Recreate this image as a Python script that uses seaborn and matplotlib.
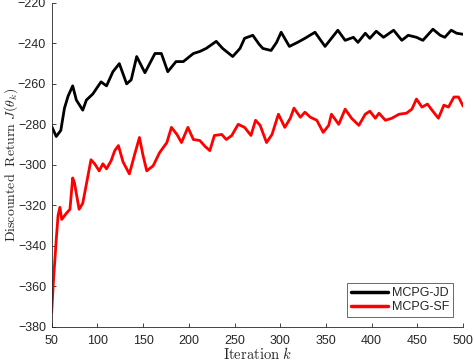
import pandas as pd
import matplotlib
matplotlib.use('Agg')
import matplotlib.pyplot as plt
import seaborn as sns

# values
jd_iter = [50, 55, 60, 64, 68, 73, 77, 84, 88, 95,
           104, 110, 117, 124, 132, 137, 143, 152, 163, 170,
           177, 186, 194, 205, 212, 219, 230, 237, 248, 256,
           261, 270, 277, 281, 290, 296, 301, 310, 319, 327,
           338, 349, 356, 363, 371, 380, 385, 393, 398, 405,
           413, 424, 433, 440, 449, 456, 467, 475, 480, 487,
           493, 500]
jd_ret = [-281, -286, -283, -272, -266, -261, -268, -273, -268, -265,
          -259, -261, -254, -250, -260, -258, -246.5, -254.5, -245, -245,
          -254, -249, -249, -245, -244, -242.5, -239, -242.5, -246.5, -242.5,
          -237.5, -236, -240.5, -242.5, -243.5, -239.5, -234.5, -241.5, -239.5, -237.5,
          -234.5, -241.5, -237.5, -233.5, -238.5, -237, -239.5, -235, -237.5, -234,
          -237, -233.5, -238.5, -236, -237, -238.5, -233, -236, -237, -233.5,
          -235, -235.5]

sf_iter = [50, 52, 55, 57, 59, 61, 66, 70, 73, 75,
           80, 84, 88, 93, 97, 102, 106, 110, 115, 119,
           123, 128, 135, 141, 146, 150, 154, 161, 168, 176,
           181, 187, 192, 199, 205, 212, 218, 223, 228, 236,
           241, 247, 254, 261, 268, 273, 278, 285, 291, 298,
           305, 311, 315, 322, 327, 333, 340, 347, 353, 356,
           364, 371, 378, 386, 393, 398, 404, 408, 415, 422,
           430, 438, 444, 449, 455, 461, 466, 473, 479, 484,
           490, 495, 500]
sf_ret = [-373, -357, -337, -325, -321, -327, -324, -322, -306.5, -309,
          -322, -319, -309.5, -297.5, -299.5, -303, -299.5, -302, -298, -293,
          -290.5, -298.5, -304.5, -294.5, -286.5, -295.5, -303, -300.5, -294, -289,
          -281.5, -285, -289, -281.5, -287.5, -288, -291, -293, -285.5, -285,
          -287.5, -285.5, -280, -281.5, -285.5, -278, -280.5, -289, -285, -275,
          -281.5, -277, -272, -276.5, -274, -276.5, -278, -284, -280.5, -275,
          -280, -272.5, -277, -280.5, -275, -273.5, -277, -274.5, -278, -277,
          -275, -274.5, -272.5, -267.5, -271.5, -270, -273, -277, -270.5, -271.5,
          -266.5, -266.5, -271]

x_ticks = list(range(50, 501, 50))
y_ticks = list(range(-380, -219, 20))

df = pd.concat([
    pd.DataFrame({'iter': jd_iter, 'ret': jd_ret, 'method': 'MCPG-JD'}),
    pd.DataFrame({'iter': sf_iter, 'ret': sf_ret, 'method': 'MCPG-SF'}),
])

sns.set_style('ticks')
plt.rcParams['font.family'] = ['Liberation Sans', 'DejaVu Sans']
plt.rcParams['mathtext.fontset'] = 'cm'
plt.rcParams['xtick.direction'] = 'in'
plt.rcParams['ytick.direction'] = 'in'

fig = plt.figure(figsize=(4.74, 3.63), dpi=100)
ax = fig.add_axes([0.109, 0.1, 0.868, 0.892])

sns.lineplot(data=df, x='iter', y='ret', hue='method', estimator=None,
             palette={'MCPG-JD': 'black', 'MCPG-SF': '#ff0000'},
             linewidth=2.0, ax=ax)

ax.set_xlim(50, 500)
ax.set_ylim(-380, -220)
ax.set_xticks(x_ticks)
ax.set_yticks(y_ticks)
ax.tick_params(labelsize=9, length=3, width=0.6, colors='#262626')
ax.tick_params(axis='x', pad=6)
ax.tick_params(axis='y', pad=4)
for s in ['left', 'bottom']:
    ax.spines[s].set_linewidth(0.6)
    ax.spines[s].set_color('#262626')
sns.despine(ax=ax)

ax.set_xlabel(r'$\mathrm{Iteration}\ k$', fontsize=10.5, labelpad=-1)
ax.set_ylabel(r'$\mathrm{Discounted\ \ Return}\ J(\theta_k)$', fontsize=10)
ax.yaxis.set_label_coords(-0.077, 0.5)

leg = ax.legend(loc='lower right', fontsize=9, frameon=True, fancybox=False,
                handlelength=3.0, borderaxespad=0.8, borderpad=0.3,
                labelspacing=0.15, handletextpad=0.3)
leg.get_frame().set_edgecolor('#262626')
leg.get_frame().set_linewidth(0.6)
for line in leg.get_lines():
    line.set_linewidth(2.5)

fig.savefig('out.png', dpi=100)
